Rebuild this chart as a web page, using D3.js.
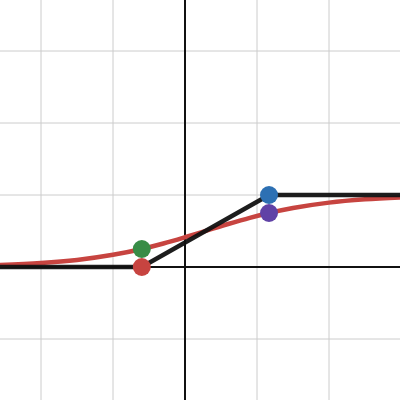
<!DOCTYPE html>
<html><head><meta charset="utf-8">
<script src="https://cdn.jsdelivr.net/npm/d3@7"></script>
<style>body{margin:0}svg{display:block}</style>
</head><body>
<svg id="chart" width="400" height="400"></svg>
<script>
// values (graph units)
const curveX = [-2.6, -2, -1.5, -1, -0.6, -0.3, 0, 0.3, 0.6, 0.9, 1.167, 1.5, 2, 2.5, 3]
const curveY = [0.028, 0.055, 0.098, 0.169, 0.25, 0.326, 0.413, 0.505, 0.597, 0.683, 0.75, 0.819, 0.894, 0.94, 0.967]
const rampX = [-2.6, -0.6, 1.167, 3]
const rampY = [0, 0, 1, 1]
const dots = [
  {x: -0.6, y: 0.25, color: '#388c46'},
  {x: -0.6, y: 0, color: '#c74440'},
  {x: 1.167, y: 1, color: '#2d70b3'},
  {x: 1.167, y: 0.75, color: '#6042a6'}
]
const gridX = [-2, -1, 1, 2]
const gridY = [-1, 1, 2, 3]

const width = 400
const height = 400
const svg = d3.select('#chart')

const x = d3.scaleLinear().domain([-185 / 72, 215 / 72]).range([0, width])
const y = d3.scaleLinear().domain([-133 / 72, 267 / 72]).range([height, 0])

svg.append('rect').attr('width', width).attr('height', height).attr('fill', 'white')

svg.selectAll('.gx').data(gridX).join('line')
  .attr('x1', d => x(d)).attr('x2', d => x(d))
  .attr('y1', 0).attr('y2', height)
  .attr('stroke', '#ccc').attr('stroke-width', 1)

svg.selectAll('.gy').data(gridY).join('line')
  .attr('y1', d => y(d)).attr('y2', d => y(d))
  .attr('x1', 0).attr('x2', width)
  .attr('stroke', '#ccc').attr('stroke-width', 1)

svg.append('line').attr('x1', x(0)).attr('x2', x(0)).attr('y1', 0).attr('y2', height)
  .attr('stroke', '#111').attr('stroke-width', 2)
svg.append('line').attr('y1', y(0)).attr('y2', y(0)).attr('x1', 0).attr('x2', width)
  .attr('stroke', '#111').attr('stroke-width', 2)

const line = d3.line().x(d => x(d[0])).y(d => y(d[1]))

svg.append('path')
  .attr('d', line.curve(d3.curveMonotoneX)(d3.zip(curveX, curveY)))
  .attr('fill', 'none').attr('stroke', '#c74440').attr('stroke-width', 4.5)

svg.append('path')
  .attr('d', d3.line().x(d => x(d[0])).y(d => y(d[1]))(d3.zip(rampX, rampY)))
  .attr('fill', 'none').attr('stroke', '#111').attr('stroke-opacity', 0.95)
  .attr('stroke-width', 4.5)

svg.selectAll('.dot').data(dots).join('circle')
  .attr('cx', d => x(d.x)).attr('cy', d => y(d.y)).attr('r', 9)
  .attr('fill', d => d.color)
</script>
</body></html>
